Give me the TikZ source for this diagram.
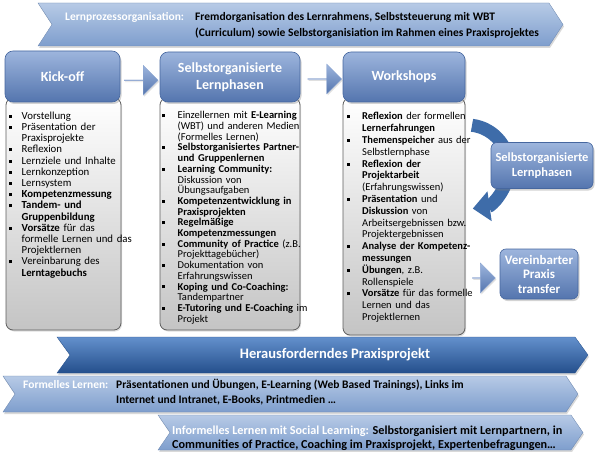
\documentclass[tikz,border=0pt]{standalone}
\usepackage{fontspec}
\setmainfont{Carlito}
\usetikzlibrary{arrows.meta,calc,shapes.arrows,shadows}
\definecolor{lphead}{HTML}{9DB5DD}
\definecolor{lpheaddk}{HTML}{5475AE}
\definecolor{lpedge}{HTML}{46679F}
\definecolor{lpband}{HTML}{B7CAE6}
\definecolor{lpbanddk}{HTML}{7E9ECD}
\definecolor{lpdeep}{HTML}{6390CC}
\definecolor{lpdeepdk}{HTML}{244F8C}
\definecolor{lploop}{HTML}{3E6CA9}
\definecolor{lpbody}{HTML}{C4C4C4}
\definecolor{lpframe}{HTML}{5E5E5E}
\newlength{\lpind}
\newcommand{\lpbr}{\hfil\break}
\newcommand{\lpitem}[1]{\par\hangindent=\lpind\hangafter=1\noindent\makebox[\lpind][l]{\raisebox{1.6pt}{\rule{3pt}{3pt}}}#1}

\begin{document}
\begin{tikzpicture}[x=1pt, y=-1pt,
  phasehead/.style={rounded corners=8pt, draw=lpedge, line width=0.6pt, top color=lphead, bottom color=lpheaddk,
    drop shadow={opacity=0.35, shadow xshift=1.5pt, shadow yshift=-2pt}, text=white, align=center, inner sep=0pt,
    font=\fontsize{14}{16.5}\selectfont\bfseries},
  sidebox/.style={phasehead, rounded corners=6pt},
  phasebody/.style={rounded corners=7pt, draw=lpframe, line width=0.8pt, top color=white, bottom color=lpbody,
    drop shadow={opacity=0.25, shadow xshift=1pt, shadow yshift=-1.5pt}, inner sep=0pt},
  phaselist/.style={anchor=north west, inner sep=0pt, text width=200pt,
    execute at begin node={\raggedright\lineskiplimit=-20pt}},
  blockarrow/.style={single arrow, single arrow head extend=6.5pt, minimum width=30pt, inner sep=0pt,
    top color=lphead, bottom color=lpheaddk, draw=lphead!80!lpedge, line width=0.3pt,
    drop shadow={opacity=0.25, shadow xshift=1pt, shadow yshift=-1.5pt}},
  lightband/.style={top color=lpband, bottom color=lpbanddk, draw=lpbanddk!85!black, line width=0.3pt,
    drop shadow={opacity=0.3, shadow xshift=1pt, shadow yshift=-2pt}},
  deepband/.style={top color=lpdeep, bottom color=lpdeepdk, draw=lpdeepdk, line width=0.3pt,
    drop shadow={opacity=0.3, shadow xshift=1pt, shadow yshift=-2pt}},
  bandlabel/.style={anchor=base west, inner sep=0pt, text=white, font=\fontsize{11.5}{15.5}\selectfont\bfseries},
  bandtext/.style={anchor=base west, inner sep=0pt, font=\fontsize{11.5}{15.5}\selectfont\bfseries},
  loopline/.style={draw=lploop, line width=13pt, -{Triangle[width=29pt,length=17pt]}}]
  \useasboundingbox (0,0) rectangle (595,452);

  % Lernprozessorganisation
  \path[lightband] (38,3) -- (549,3) -- (563,24.5) -- (549,46) -- (38,46) -- (52,24.5) -- cycle;
  \node[bandlabel] (orglabel) at (65,21) {Lernprozessorganisation:};
  \node[bandtext] (orgtext) at (195,21) {\parbox[t]{380pt}{Fremdorganisation des Lernrahmens, Selbststeuerung mit WBT\\
    (Curriculum) sowie Selbstorganisiation im Rahmen eines Praxisprojektes}};

  % three phases
  \node[phasebody, minimum width=115, minimum height=232] (kobox) at (63.5,214) {};
  \node[phasebody, minimum width=140, minimum height=232] (selbox) at (230,214) {};
  \node[phasebody, minimum width=122, minimum height=237] (wsbox) at (404,216.5) {};
  \node[phasehead, minimum width=115, minimum height=51] (kohead) at (62.5,76.5) {Kick-off};
  \node[phasehead, minimum width=140, minimum height=50] (selhead) at (230,77) {Selbstorganisierte\\Lernphasen};
  \node[phasehead, minimum width=122, minimum height=50] (wshead) at (404,77) {Workshops};
  \node[blockarrow, minimum height=34] (arrowA) at ($(kohead.east)!0.5!(selhead.west)+(1,3.5)$) {};
  \node[blockarrow, minimum height=34] (arrowB) at ($(selhead.east)!0.5!(wshead.west)+(3,2)$) {};

  \node[phaselist, font=\fontsize{10.8}{11.2}\selectfont] (kolist) at (9,108) {\setlength{\lpind}{12.5pt}%
    \lpitem{Vorstellung}
    \lpitem{Präsentation der\lpbr Praxisprojekte}
    \lpitem{Reflexion}
    \lpitem{Lernziele und Inhalte}
    \lpitem{Lernkonzeption}
    \lpitem{Lernsystem}
    \lpitem{\textbf{Kompetenzmessung}}
    \lpitem{\textbf{Tandem- und}\lpbr\textbf{Gruppenbildung}}
    \lpitem{\textbf{Vorsätze} für das\lpbr formelle Lernen und das\lpbr Projektlernen}
    \lpitem{Vereinbarung des\lpbr\textbf{Lerntagebuchs}}\par};
  \node[phaselist, font=\fontsize{10.5}{10.7}\selectfont] (sellist) at (162,108) {\setlength{\lpind}{15.5pt}%
    \lpitem{Einzellernen mit \textbf{E-Learning}\lpbr(WBT) und anderen Medien\lpbr(Formelles Lernen)}
    \lpitem{\textbf{Selbstorganisiertes Partner-}\lpbr\textbf{und Gruppenlernen}}
    \lpitem{\textbf{Learning Community:}\lpbr Diskussion von\lpbr Übungsaufgaben}
    \lpitem{\textbf{Kompetenzentwicklung in}\lpbr\textbf{Praxisprojekten}}
    \lpitem{\textbf{Regelmäßige}\lpbr\textbf{Kompetenzmessungen}}
    \lpitem{\textbf{Community of Practice} (z.B.\lpbr Projekttagebücher)}
    \lpitem{Dokumentation von\lpbr Erfahrungswissen}
    \lpitem{\textbf{Koping und Co-Coaching:}\lpbr Tandempartner}
    \lpitem{\textbf{E-Tutoring und E-Coaching} im\lpbr Projekt}\par};
  \node[phaselist, font=\fontsize{10.5}{11.8}\selectfont] (wslist) at (347,108) {\setlength{\lpind}{15pt}%
    \lpitem{\textbf{Reflexion} der formellen\lpbr\textbf{Lernerfahrungen}}
    \lpitem{\textbf{Themenspeicher} aus der\lpbr Selbstlernphase}
    \lpitem{\textbf{Reflexion der}\lpbr\textbf{Projektarbeit}\lpbr(Erfahrungswissen)}
    \lpitem{\textbf{Präsentation} und\lpbr\textbf{Diskussion} von\lpbr Arbeitsergebnissen bzw.\lpbr Projektergebnissen}
    \lpitem{\textbf{Analyse der Kompetenz-}\lpbr\textbf{messungen}}
    \lpitem{\textbf{Übungen}, z.B.\lpbr Rollenspiele}
    \lpitem{\textbf{Vorsätze} für das formelle\lpbr Lernen und das\lpbr Projektlernen}\par};

  % loop back into the workshops
  \coordinate (loopfrom) at (472,125.3);
  \draw[loopline] (loopfrom) arc[start angle=-83, end angle=82, radius=42];
  \node[sidebox, minimum width=102, minimum height=46, font=\fontsize{12.5}{15}\selectfont\bfseries] (selside) at (542,165.5) {Selbstorganisierte\\Lernphasen};
  \node[sidebox, minimum width=78, minimum height=50, font=\fontsize{13}{14.5}\selectfont\bfseries] (vptbox) at (539,274) {Vereinbarter\\Praxis\\transfer};
  \node[blockarrow, minimum height=23] (arrowC) at ($(vptbox.west)+(-16,4)$) {};

  % Praxisprojekt and the two learning modes
  \path[deepband] (57,337) -- (575,337) -- (588,355) -- (575,373) -- (57,373) -- (70,355) -- cycle;
  \node[bandlabel, anchor=center, font=\fontsize{14.5}{17}\selectfont\bfseries] (challenge) at (335,355) {Herausforderndes Praxisprojekt};
  \path[lightband] (3,376) -- (566,376) -- (578,394) -- (566,412) -- (3,412) -- (15,394) -- cycle;
  \node[bandlabel] (formlabel) at (23,388) {Formelles Lernen:};
  \node[bandtext] (formtext) at (116,388) {\parbox[t]{440pt}{Präsentationen und Übungen, E-Learning (Web Based Trainings), Links im\\
    Internet und Intranet, E-Books, Printmedien …}};
  \path[lightband] (158,415) -- (571,415) -- (583,432.5) -- (571,450) -- (158,450) -- (170,432.5) -- cycle;
  \node[bandtext, font=\fontsize{12.2}{14.5}\selectfont\bfseries] (infotext) at (172,425.5) {\parbox[t]{410pt}{{\color{white}Informelles Lernen mit Social Learning:} Selbstorganisiert mit Lernpartnern, in\\
    Communities of Practice, Coaching im Praxisprojekt, Expertenbefragungen…}};
\end{tikzpicture}
\end{document}
